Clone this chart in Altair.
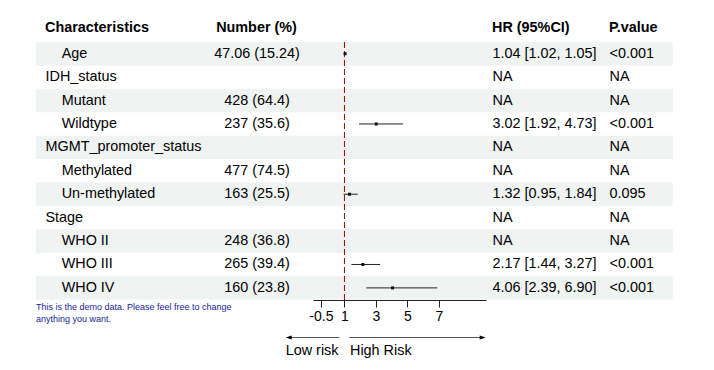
import altair as alt
import pandas as pd

labels = ["Age", "IDH_status", "Mutant", "Wildtype", "MGMT_promoter_status",
          "Methylated", "Un-methylated", "Stage", "WHO II", "WHO III", "WHO IV"]
indent = [1, 0, 1, 1, 0, 1, 1, 0, 1, 1, 1]
numbers = ["47.06 (15.24)", "", "428 (64.4)", "237 (35.6)", "", "477 (74.5)",
           "163 (25.5)", "", "248 (36.8)", "265 (39.4)", "160 (23.8)"]
est = [1.04, None, None, 3.02, None, None, 1.32, None, None, 2.17, 4.06]
low = [1.02, None, None, 1.92, None, None, 0.95, None, None, 1.44, 2.39]
high = [1.05, None, None, 4.73, None, None, 1.84, None, None, 3.27, 6.90]
hr_text = ["1.04 [1.02, 1.05]", "NA", "NA", "3.02 [1.92, 4.73]", "NA", "NA",
           "1.32 [0.95, 1.84]", "NA", "NA", "2.17 [1.44, 3.27]", "4.06 [2.39, 6.90]"]
pvals = ["<0.001", "NA", "NA", "<0.001", "NA", "NA", "\u00a00.095", "NA", "NA",
         "<0.001", "<0.001"]
headers = ["Characteristics", "Number (%)", "HR (95%CI)", "P.value"]
ticks = [-0.5, 1, 3, 5, 7]
x_domain = [-1, 10]
ref_value = 1
footnote = ["This is the demo data. Please feel free to change", "anything you want."]
arrow_labels = ["Low risk", "High Risk"]

df = pd.DataFrame({
    "row": list(range(len(labels))),
    "label": labels,
    "indent": indent,
    "number": numbers,
    "est": est,
    "low": low,
    "high": high,
    "hr": hr_text,
    "p": pvals,
})
one = pd.DataFrame({"k": [0]})

FONT = "Liberation Sans"
FS = 14.4

xscale = alt.Scale(domain=x_domain, range=[305.0, 478.0], nice=False, zero=False)
xaxis = alt.Axis(values=ticks, title=None, grid=False, domainColor="#222",
                 tickColor="#222", tickSize=7, labelPadding=2,
                 labelFont=FONT, labelFontSize=14, labelColor="black",
                 labelExpr="'' + datum.value", labelFlush=False,
                 labelOverlap=False)
yscale = alt.Scale(domain=list(range(len(labels))), range=[34, 291.6],
                   paddingInner=0, paddingOuter=0)
Y = alt.Y("row:O", scale=yscale, axis=None)

base = alt.Chart(df)

bands = base.transform_filter("datum.row % 2 == 0").mark_rect(color="#eff3f2").encode(
    x=alt.value(28), x2=alt.value(664.7), y=Y)

txt = dict(font=FONT, fontSize=FS, color="black", baseline="middle")

lab0 = base.transform_filter("datum.indent == 0").mark_text(align="left", **txt).encode(
    x=alt.value(37.5), y=Y, text="label:N")
lab1 = base.transform_filter("datum.indent == 1").mark_text(align="left", **txt).encode(
    x=alt.value(53.7), y=Y, text="label:N")
num = base.mark_text(align="center", **txt).encode(x=alt.value(249), y=Y, text="number:N")
hr = base.mark_text(align="left", **txt).encode(x=alt.value(484.5), y=Y, text="hr:N")
pv = base.mark_text(align="left", **txt).encode(x=alt.value(601.5), y=Y, text="p:N")

hdr = dict(font=FONT, fontSize=FS, fontWeight="bold", color="black", baseline="middle")
ann = alt.Chart(one)
h1 = ann.mark_text(align="left", **hdr).encode(
    x=alt.value(37), y=alt.value(20.3), text=alt.value(headers[0]))
h2 = ann.mark_text(align="center", **hdr).encode(
    x=alt.value(248.5), y=alt.value(20.3), text=alt.value(headers[1]))
h3 = ann.mark_text(align="left", **hdr).encode(
    x=alt.value(484), y=alt.value(20.3), text=alt.value(headers[2]))
h4 = ann.mark_text(align="left", **hdr).encode(
    x=alt.value(601), y=alt.value(20.3), text=alt.value(headers[3]))

ref = ann.mark_rule(color="#a80000", strokeDash=[6, 3], strokeWidth=1).encode(
    x=alt.datum(ref_value, scale=xscale, axis=xaxis),
    y=alt.value(34), y2=alt.value(292))

ci = base.transform_filter("isValid(datum.est)").mark_rule(color="#222", strokeWidth=1).encode(
    x=alt.X("low:Q", scale=xscale, axis=xaxis),
    x2="high:Q", y=Y)

pts = base.transform_filter("isValid(datum.est)").mark_square(
    color="#111", size=9, opacity=1).encode(
    x=alt.X("est:Q", scale=xscale, axis=xaxis), y=Y)

arrow_y = 329.5
arr_low = ann.mark_rule(color="#555", strokeWidth=1).encode(
    x=alt.value(282), x2=alt.value(331.3), y=alt.value(arrow_y))
arr_high = ann.mark_rule(color="#555", strokeWidth=1).encode(
    x=alt.value(341.3), x2=alt.value(474), y=alt.value(arrow_y))
head_low = ann.mark_point(
    shape="M-1,0L1,-0.7L1,0.7Z", filled=True, color="black", size=36, opacity=1).encode(
    x=alt.value(280.7), y=alt.value(arrow_y))
head_high = ann.mark_point(
    shape="M1,0L-1,-0.7L-1,0.7Z", filled=True, color="black", size=36, opacity=1).encode(
    x=alt.value(474.7), y=alt.value(arrow_y))
lt_low = ann.mark_text(align="right", font=FONT, fontSize=FS, color="black",
                       baseline="middle").encode(
    x=alt.value(330.5), y=alt.value(342.5), text=alt.value(arrow_labels[0]))
lt_high = ann.mark_text(align="left", font=FONT, fontSize=FS, color="black",
                        baseline="middle").encode(
    x=alt.value(342), y=alt.value(342.5), text=alt.value(arrow_labels[1]))

foot = ann.mark_text(align="left", baseline="middle", font=FONT, fontSize=9,
                     color="#1c1c96", lineHeight=12.3).encode(
    x=alt.value(28), y=alt.value(298.7), text=alt.value(footnote))

chart = alt.layer(
    bands, lab0, lab1, num, hr, pv, h1, h2, h3, h4, ref, ci, pts,
    arr_low, arr_high, head_low, head_high, lt_low, lt_high, foot
).properties(
    width=698, height=292,
    autosize=alt.AutoSizeParams(type="none"),
    padding={"left": 0, "top": 0, "right": 0, "bottom": 62},
).configure_view(stroke=None)

chart.save("out.html", embed_options={"renderer": "svg", "actions": False})
